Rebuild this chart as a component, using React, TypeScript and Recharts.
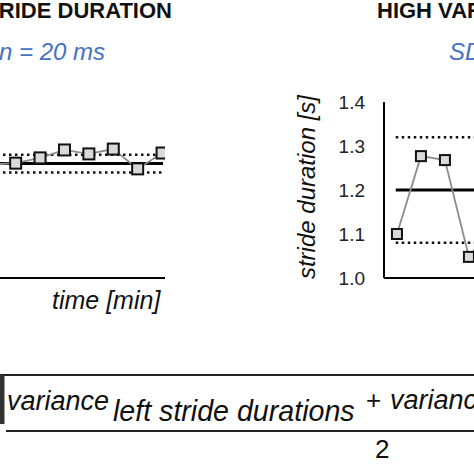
import React from "react";
import { LineChart, Line, XAxis, YAxis, ReferenceLine } from "recharts";

// low variability panel (left, partly cut off)
const lowTimes = [3, 4, 5, 6, 7, 8, 9, 10];
const lowStride = [1.258, 1.261, 1.273, 1.291, 1.282, 1.293, 1.248, 1.284];
const lowMean = 1.26;
const lowSD = 0.02;

// high variability panel (right, partly cut off)
const highTimes = [1, 2, 3, 4, 5];
const highStride = [1.1, 1.277, 1.268, 1.048, 1.12];
const highMean = 1.2;
const highSD = 0.12;

const yTicks = [1.0, 1.1, 1.2, 1.3, 1.4];

const lowData = lowTimes.map((t, i) => ({ t, v: lowStride[i] }));
const highData = highTimes.map((t, i) => ({ t, v: highStride[i] }));

const FONT = "'Liberation Sans', Arial, sans-serif";

const SquareDot = (props: any) => {
  const { cx, cy, size } = props;
  if (cx == null || cy == null) return null;
  const h = size / 2;
  return (
    <rect
      x={cx - h}
      y={cy - h}
      width={size}
      height={size}
      fill="#d9d9d9"
      stroke="#111"
      strokeWidth={2}
    />
  );
};

function Panel({ data, mean, sd, domain, showY, lineStart, lineEnd, dotSize }: any) {
  return (
    <LineChart
      width={showY ? 300 : 265}
      height={220}
      data={data}
      margin={{ top: 22, right: 0, bottom: 2, left: 0 }}
    >
      <XAxis
        type="number"
        dataKey="t"
        domain={domain}
        allowDataOverflow
        tick={false}
        tickLine={false}
        height={20}
        axisLine={{ stroke: "#000", strokeWidth: 2 }}
      />
      <YAxis
        type="number"
        domain={[1.0, 1.4]}
        ticks={yTicks}
        hide={!showY}
        width={104}
        tickLine={false}
        tickSize={6}
        tickMargin={13}
        tickFormatter={(v: number) => v.toFixed(1)}
        tick={{ fill: "#222", fontSize: 19, fontFamily: FONT }}
        axisLine={{ stroke: "#000", strokeWidth: 2 }}
      />
      <ReferenceLine
        segment={[{ x: lineStart, y: mean + sd }, { x: lineEnd, y: mean + sd }]}
        stroke="#111"
        strokeWidth={2.5}
        strokeDasharray="2.5 3.5"
      />
      <ReferenceLine
        segment={[{ x: lineStart, y: mean - sd }, { x: lineEnd, y: mean - sd }]}
        stroke="#111"
        strokeWidth={2.5}
        strokeDasharray="2.5 3.5"
      />
      <ReferenceLine
        segment={[{ x: lineStart, y: mean }, { x: lineEnd, y: mean }]}
        stroke="#000"
        strokeWidth={3}
      />
      <Line
        dataKey="v"
        stroke="#8c8c8c"
        strokeWidth={1.8}
        dot={<SquareDot size={dotSize} />}
        activeDot={false}
        isAnimationActive={false}
      />
    </LineChart>
  );
}

export default function App() {
  return (
    <div
      style={{
        position: "absolute",
        left: 0,
        top: 0,
        width: 474,
        height: 474,
        overflow: "hidden",
        background: "#fff",
        fontFamily: FONT,
      }}
    >
      <div style={{ position: "absolute", left: -100, top: 80 }}>
        <Panel
          data={lowData}
          mean={lowMean}
          sd={lowSD}
          domain={[-0.74, 10.12]}
          showY={false}
          lineStart={-0.7}
          lineEnd={10.04}
          dotSize={11}
        />
      </div>
      <div style={{ position: "absolute", left: 280, top: 80 }}>
        <Panel
          data={highData}
          mean={highMean}
          sd={highSD}
          domain={[0.46, 8.63]}
          showY={true}
          lineStart={0.95}
          lineEnd={8.6}
          dotSize={10}
        />
      </div>
      <svg
        width={474}
        height={474}
        style={{ position: "absolute", left: 0, top: 0, pointerEvents: "none" }}
        fontFamily={FONT}
      >
        <text x={172} y={18} textAnchor="end" fontSize={22} fontWeight="bold" fill="#111">
          RIDE DURATION
        </text>
        <text x={377} y={18} fontSize={22} fontWeight="bold" fill="#111">
          HIGH VARIABILITY
        </text>
        <text x={105} y={60} textAnchor="end" fontSize={24} fontStyle="italic" fill="#4472c4">
          n = 20 ms
        </text>
        <text x={449} y={60} fontSize={24} fontStyle="italic" fill="#4472c4">
          SD = 120 ms
        </text>
        <text x={52} y={309} fontSize={25} fontStyle="italic" fill="#111">
          time [min]
        </text>
        <text
          transform="translate(315,187) rotate(-90)"
          textAnchor="middle"
          fontSize={24}
          fontStyle="italic"
          fill="#111"
        >
          stride duration [s]
        </text>
        {/* formula */}
        <path d="M-2,375 L474,375" stroke="#222" strokeWidth={2} />
        <path d="M2,375 L2,424" stroke="#333" strokeWidth={5} />
        <path d="M6,431 L474,431" stroke="#222" strokeWidth={2} />
        <text x={7} y={410} fontSize={27} fontStyle="italic" fill="#111">
          variance
        </text>
        <text x={113} y={421} fontSize={28.6} fontStyle="italic" fill="#111">
          left stride durations
        </text>
        <text x={366} y={409} fontSize={26} fill="#111">
          +
        </text>
        <text x={390} y={409} fontSize={27} fontStyle="italic" fill="#111">
          variance
        </text>
        <text x={375} y={458} fontSize={26} fill="#111">
          2
        </text>
      </svg>
    </div>
  );
}
